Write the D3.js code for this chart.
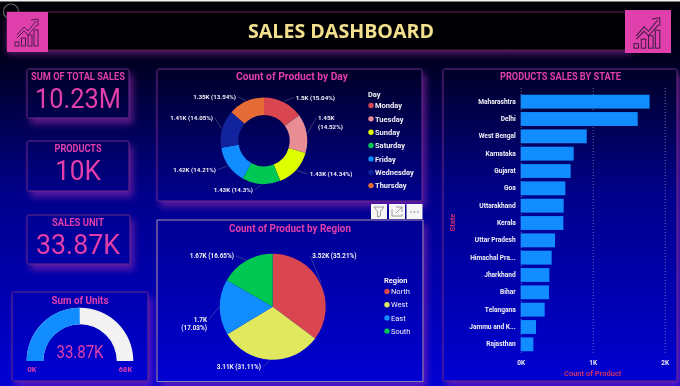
<!DOCTYPE html>
<html>
<head>
<meta charset="utf-8">
<script src="https://cdn.jsdelivr.net/npm/d3@7"></script>
<style>
  html, body { margin: 0; padding: 0; background: #000; overflow: hidden; }
  text { font-family: Roboto, sans-serif; }
  svg { display: block; filter: blur(0.35px); }
</style>
</head>
<body>
<div id="grafico"></div>
<script>
const days = ["Monday", "Tuesday", "Sunday", "Saturday", "Friday", "Wednesday", "Thursday"];
const dayCounts = [1504, 1452, 1434, 1430, 1421, 1405, 1354];
const dayLabels = [["1.5K (15.04%)"], ["1.45K", "(14.52%)"], ["1.43K (14.34%)"], ["1.43K (14.3%)"], ["1.42K (14.21%)"], ["1.41K (14.05%)"], ["1.35K (13.54%)"]];
const dayColors = ["#d9464f", "#e88d93", "#ddff00", "#00c853", "#118dff", "#12239e", "#e66c37"];

const regions = ["North", "West", "East", "South"];
const regionCounts = [3521, 3111, 1703, 1665];
const regionLabels = [["3.52K (35.21%)"], ["3.11K (31.11%)"], ["1.7K", "(17.03%)"], ["1.67K (16.65%)"]];
const regionColors = ["#d9464f", "#e0e85e", "#118dff", "#00c853"];

const states = ["Maharashtra", "Delhi", "West Bengal", "Karnataka", "Gujarat", "Goa", "Uttarakhand", "Kerala", "Uttar Pradesh", "Himachal Pra...", "Jharkhand", "Bihar", "Telangana", "Jammu and K...", "Rajasthan"];
const stateCounts = [1790, 1625, 917, 736, 694, 620, 597, 593, 477, 430, 398, 394, 333, 213, 176];

const unitsValue = 33870;
const unitsMax = 68000;

const kpis = [
  { title: "SUM OF TOTAL SALES", value: "10.23M", titleFit: 94, valueFit: 86 },
  { title: "PRODUCTS", value: "10K", titleFit: 47, valueFit: 46 },
  { title: "SALES UNIT", value: "33.87K", titleFit: 52, valueFit: 84 }
];

const width = 680;
const height = 386;
const pink = "#e23fa9";
const panelLine = "#6a2a86";

const svg = d3.select("#grafico")
              .append("svg")
              .attr("width", width)
              .attr("height", height);

const defs = svg.append("defs");

const bg = defs.append("linearGradient")
               .attr("id", "bg")
               .attr("gradientUnits", "userSpaceOnUse")
               .attr("x1", 0).attr("y1", 0)
               .attr("x2", 0).attr("y2", height);
bg.selectAll("stop")
  .data([
    { offset: "0%", color: "#000006" },
    { offset: "14%", color: "#00001c" },
    { offset: "50%", color: "#00008a" },
    { offset: "100%", color: "#0000d4" }
  ])
  .enter()
  .append("stop")
  .attr("offset", d => d.offset)
  .attr("stop-color", d => d.color);

defs.append("filter")
    .attr("id", "glow")
    .attr("x", "-30%").attr("y", "-30%")
    .attr("width", "160%").attr("height", "170%")
    .append("feGaussianBlur")
    .attr("stdDeviation", 3.5);

svg.append("rect")
   .attr("width", width)
   .attr("height", height)
   .attr("fill", "url(#bg)");

// top strip of the screenshot
svg.append("rect")
   .attr("width", width)
   .attr("height", 1.5)
   .attr("fill", "#f4f4f4");

function panel(x, y, w, h) {
  svg.append("rect")
     .attr("x", x + 3).attr("y", y + 5)
     .attr("width", w + 1).attr("height", h + 1)
     .attr("fill", "#a32fb0")
     .attr("opacity", 0.55)
     .attr("filter", "url(#glow)");
  svg.append("rect")
     .attr("x", x).attr("y", y)
     .attr("width", w).attr("height", h)
     .attr("rx", 1.5)
     .attr("fill", "url(#bg)")
     .attr("stroke", panelLine)
     .attr("stroke-width", 1);
}

function label(x, y, str, size, color, opts = {}) {
  const t = svg.append("text")
               .attr("x", x)
               .attr("y", y)
               .attr("dy", "0.36em")
               .attr("font-size", size + "px")
               .attr("font-weight", opts.weight || "normal")
               .attr("fill", color)
               .style("text-anchor", opts.anchor || "middle")
               .text(str);
  if (opts.fit) {
    t.attr("textLength", opts.fit).attr("lengthAdjust", "spacingAndGlyphs");
  }
  return t;
}

// header
svg.append("rect")
   .attr("x", 7).attr("y", 18)
   .attr("width", 625).attr("height", 36)
   .attr("fill", "#a32fb0")
   .attr("opacity", 0.55)
   .attr("filter", "url(#glow)");
svg.append("rect")
   .attr("x", 7).attr("y", 12)
   .attr("width", 625).attr("height", 38)
   .attr("fill", "#000003")
   .attr("stroke", "#5e2358")
   .attr("stroke-width", 1);

label(341, 31, "SALES DASHBOARD", 20, "#f2e08e", { weight: "bold", fit: 186 })
  .style("font-family", "'Open Sans', sans-serif");

function trendIcon(x, y, w, h) {
  const g = svg.append("g").attr("transform", `translate(${x}, ${y})`);
  g.append("rect").attr("width", w).attr("height", h).attr("fill", "#e040ac");
  const s = w / 41;
  const icon = g.append("g")
                .attr("transform", `scale(${s})`)
                .attr("fill", "none")
                .attr("stroke", "#3d1a45")
                .attr("stroke-width", 0.9);
  [[8, 30, 4, 4], [14.5, 26, 4, 8], [21, 23, 4, 11], [27, 18, 4, 16]].forEach(b => {
    icon.append("rect").attr("x", b[0]).attr("y", b[1]).attr("width", b[2]).attr("height", b[3]);
  });
  icon.append("path").attr("d", "M10 23 L17 15 L21 19 L29 9 M24 8 L31 7 L31 14");
  icon.append("path").attr("d", "M10 26 L17 19 L21 23 L30 13");
  return g;
}

// back button circle
svg.append("circle")
   .attr("cx", 11).attr("cy", 11.5).attr("r", 7.5)
   .attr("fill", "none")
   .attr("stroke", "#666")
   .attr("stroke-width", 1.2);

trendIcon(7, 12, 41, 40);
trendIcon(625, 10, 46, 43);

// kpi cards
const cardBoxes = [[27, 69, 102, 49], [27, 141, 102, 50], [27, 215, 103, 49]];
kpis.forEach((d, i) => {
  const b = cardBoxes[i];
  panel(b[0], b[1], b[2], b[3]);
  label(b[0] + 51, b[1] + 7.5, d.title, 10, pink, { weight: "bold", fit: d.titleFit });
  label(b[0] + 51, b[1] + 29, d.value, 28, pink, { fit: d.valueFit });
});

// gauge
panel(12, 292, 136, 89);
label(80, 300, "Sum of Units", 10.5, pink, { weight: "bold", fit: 57 });

const gaugeScale = d3.scaleLinear()
                     .domain([0, unitsMax])
                     .range([-Math.PI / 2, Math.PI / 2]);
const gaugeArc = d3.arc().innerRadius(36.7).outerRadius(53.3);
const gauge = svg.append("g").attr("transform", "translate(80, 361)");
gauge.append("path")
     .attr("fill", "#f2f2f2")
     .attr("d", gaugeArc({ startAngle: gaugeScale(0), endAngle: gaugeScale(unitsMax) }));
gauge.append("path")
     .attr("fill", "#118dff")
     .attr("d", gaugeArc({ startAngle: gaugeScale(0), endAngle: gaugeScale(unitsValue) }));

label(80, 351.5, "33.87K", 18, pink, { fit: 47 });
label(32, 369, "0K", 7.5, pink, { weight: "bold" });
label(125.5, 369, "68K", 7.5, pink, { weight: "bold" });

// slice labels with their small leader lines
function sliceChart(cx, cy, inner, outer, values, colors, texts, spots, size) {
  const arcs = d3.pie().sort(null)(values);
  const arc = d3.arc().innerRadius(inner).outerRadius(outer);
  const g = svg.append("g").attr("transform", `translate(${cx}, ${cy})`);
  g.selectAll("path")
   .data(arcs)
   .enter()
   .append("path")
   .attr("d", arc)
   .attr("fill", (d, i) => colors[i]);

  arcs.forEach((d, i) => {
    const mid = (d.startAngle + d.endAngle) / 2;
    const s = spots[i];
    const rim = [Math.sin(mid) * (outer + 1), -Math.cos(mid) * (outer + 1)];
    const end = [s[0] - cx + (s[2] === "start" ? -2 : s[2] === "end" ? 2 : 0), s[1] - cy];
    g.append("path")
     .attr("fill", "none")
     .attr("stroke", "#6f6f96")
     .attr("stroke-width", 0.5)
     .attr("d", d3.line()([rim, end]));
    texts[i].forEach((t, j) => {
      label(s[0], s[1] + j * 8.6, t, size, "#f0f0f5", { weight: "bold", anchor: s[2] });
    });
  });
}

function legend(x, y, step, title, names, colors, weight) {
  label(x, y, title, 7.5, "#f0f0f5", { weight: "bold", anchor: "start" });
  names.forEach((n, i) => {
    const ly = y + 11.5 + i * step;
    svg.append("circle")
       .attr("cx", x + 3).attr("cy", ly).attr("r", 2.7)
       .attr("fill", colors[i]);
    label(x + 7, ly, n, 7.5, "#f0f0f5", { weight: weight, anchor: "start" });
  });
}

// donut
panel(157, 69, 265, 132);
label(292, 76, "Count of Product by Day", 10.5, pink, { weight: "bold", fit: 112 });
const daySpots = [
  [295.7, 97.5, "start"], [318, 118, "start"], [309.7, 174, "start"],
  [253, 190, "end"], [216, 169.5, "end"], [213, 118, "end"], [236, 97, "end"]
];
sliceChart(264, 140.7, 25.7, 43.3, dayCounts, dayColors, dayLabels, daySpots, 6.2);
legend(368, 94, 13.35, "Day", days, dayColors, "bold");

// pie
panel(157, 220, 266, 161.5);
label(290, 228, "Count of Product by Region", 10.5, pink, { weight: "bold", fit: 122 });
const regionSpots = [
  [312.3, 256, "start"], [261, 366.7, "end"], [207, 319.3, "end"], [234, 256, "end"]
];
sliceChart(272.7, 306.7, 0, 53, regionCounts, regionColors, regionLabels, regionSpots, 6.4);
legend(384, 280, 13.2, "Region", regions, regionColors, "normal");

// selection frame of the focused visual
svg.append("rect")
   .attr("x", 157).attr("y", 220)
   .attr("width", 266).attr("height", 161.5)
   .attr("fill", "none")
   .attr("stroke", "#7f7fb8")
   .attr("stroke-width", 1);

const toolbar = svg.append("g");
[371, 389, 406.5].forEach(x => {
  toolbar.append("rect")
         .attr("x", x).attr("y", 204)
         .attr("width", 16).attr("height", 15)
         .attr("fill", "#f6f6f6");
});
toolbar.append("path")
       .attr("d", "M374 207 H384 L380.5 211.5 V216 L377.5 217 V211.5 Z")
       .attr("fill", "none").attr("stroke", "#888").attr("stroke-width", 0.8);
toolbar.append("path")
       .attr("d", "M392 209 V216 H402 V214 M396 207 H402 V212 M396 213 L402 207")
       .attr("fill", "none").attr("stroke", "#888").attr("stroke-width", 0.8);
toolbar.selectAll("circle")
       .data([-3.5, 0, 3.5])
       .enter()
       .append("circle")
       .attr("cx", d => 414.5 + d).attr("cy", 212).attr("r", 0.7)
       .attr("fill", "#666");

// state bars
panel(443, 69, 234, 312);
label(560.5, 76, "PRODUCTS SALES BY STATE", 10, pink, { weight: "bold", fit: 121 });

const barMargin = { top: 93, left: 520.7, bottom: 33 };
const barHeight = height - barMargin.top - barMargin.bottom;

const xScale = d3.scaleLinear()
                 .domain([0, 2000])
                 .range([0, 144]);
const yScale = d3.scaleBand()
                 .domain(states)
                 .range([0, barHeight])
                 .paddingInner(0.2)
                 .paddingOuter(0.1);

const bars = svg.append("g")
                .attr("transform", `translate(${barMargin.left}, ${barMargin.top})`);

const xAxis = bars.append("g")
                  .attr("transform", `translate(0, ${barHeight})`)
                  .call(d3.axisBottom(xScale)
                          .tickValues([0, 1000, 2000])
                          .tickFormat(d => (d / 1000) + "K")
                          .tickSize(-(barHeight + 5))
                          .tickPadding(7));
xAxis.select(".domain").remove();
xAxis.selectAll("line")
     .attr("stroke", "#8f8fc0")
     .attr("stroke-width", 0.7)
     .attr("stroke-dasharray", "1 2");
xAxis.selectAll("text")
     .attr("fill", "#e8e8f2")
     .attr("font-size", "6.5px")
     .attr("font-weight", "bold");

const yAxis = bars.append("g")
                  .call(d3.axisLeft(yScale).tickSize(0).tickPadding(5));
yAxis.select(".domain").remove();
yAxis.selectAll("text")
     .attr("fill", "#f0f0f5")
     .attr("font-size", "6.6px")
     .attr("font-weight", "bold");

bars.selectAll("rect.bar")
    .data(stateCounts)
    .enter()
    .append("rect")
    .attr("class", "bar")
    .attr("x", 0)
    .attr("y", (d, i) => yScale(states[i]))
    .attr("width", d => xScale(d))
    .attr("height", yScale.bandwidth())
    .attr("fill", "#118dff");

label(592.7, 373, "Count of Product", 7.5, "#c8306e", { weight: "bold" });
svg.append("text")
   .attr("transform", "translate(452, 222.5) rotate(-90)")
   .attr("dy", "0.36em")
   .attr("font-size", "7.5px")
   .attr("font-weight", "bold")
   .attr("fill", "#c8306e")
   .style("text-anchor", "middle")
   .text("State");
</script>
</body>
</html>
